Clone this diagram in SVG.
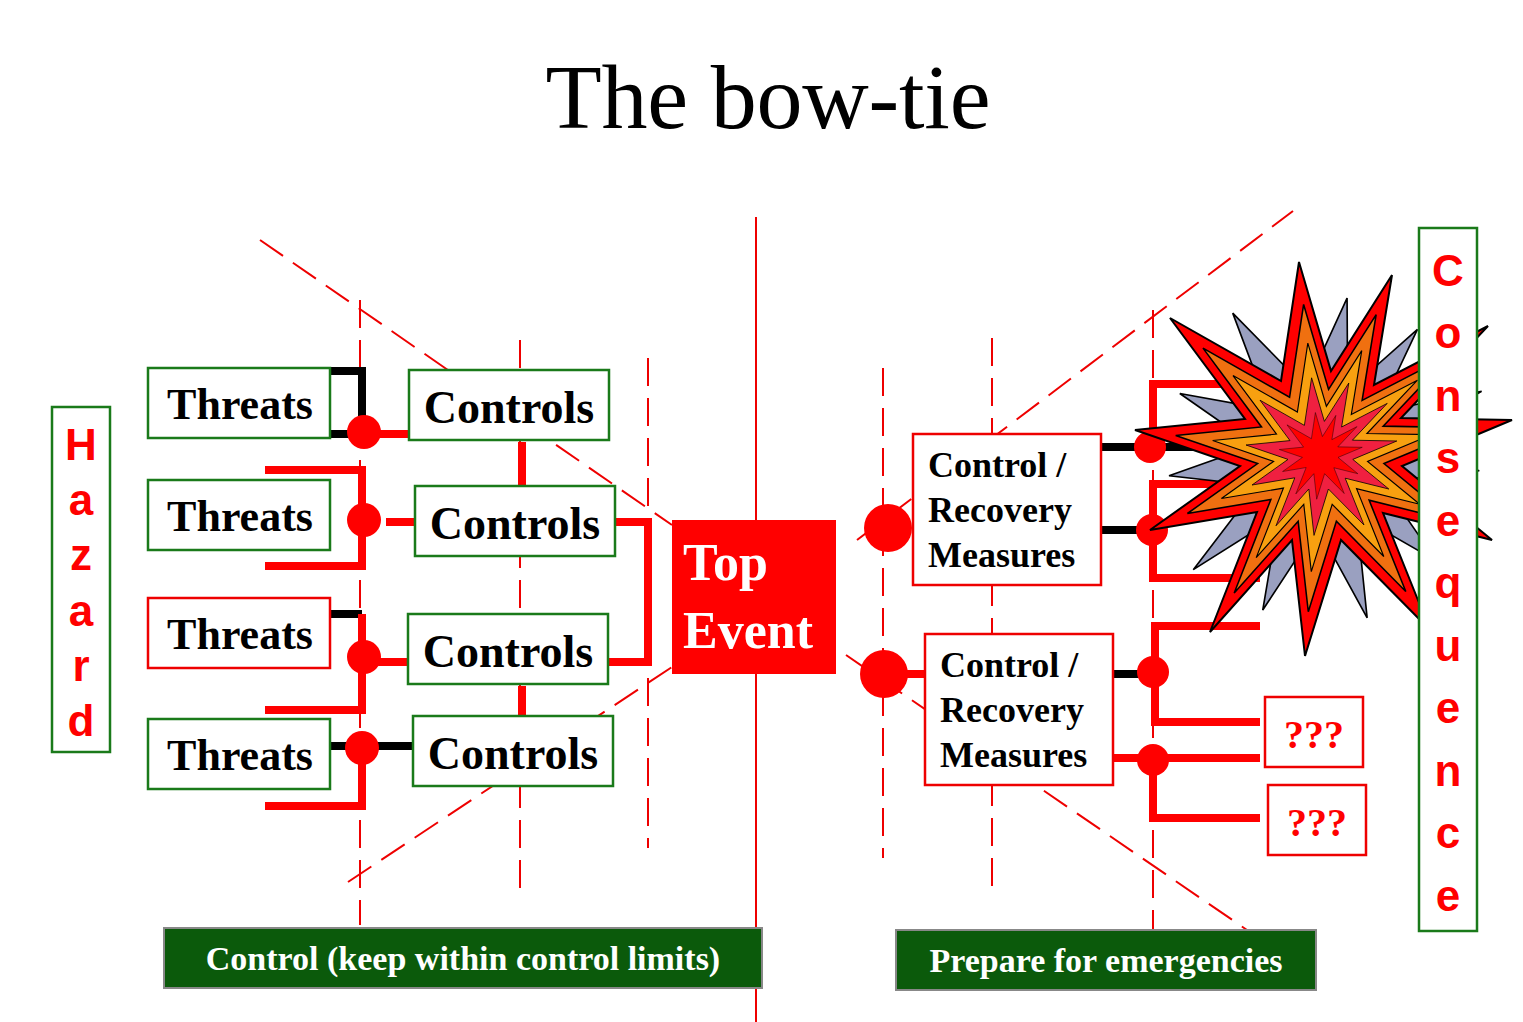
<svg xmlns="http://www.w3.org/2000/svg" width="1523" height="1022" viewBox="0 0 1523 1022">
<style>
.b{fill:#fff;stroke-width:2.5}
.g{stroke:#1a7a1a}.r{stroke:#e00}
.t{font-family:"Liberation Serif",serif;font-weight:bold;fill:#000}
.v{font-family:"Liberation Sans",Arial,sans-serif;font-weight:bold;fill:#f00;font-size:44px;text-anchor:middle}
.th{stroke:#f00;stroke-width:8;fill:none}
.bk{stroke:#000;stroke-width:8;fill:none}
.ds{stroke:#e00;stroke-width:2;stroke-dasharray:28 12;fill:none}
.dot{fill:#f00}
.lab{font-family:"Liberation Serif",serif;font-weight:bold;fill:#fff;font-size:34px}
</style>
<defs>
<polygon id="star" points="-21,-193 11,-84 72,-180 54,-70 168,-129 81,-37 192,-35 82,11 172,85 63,58 110,175 21,85 -15,201 -28,85 -110,177 -63,57 -170,75 -80,11 -185,-25 -75,-36 -150,-137 -39,-74" stroke="#000" stroke-width="2"/>
</defs>
<text x="768" y="128" font-family="Liberation Serif,serif" font-size="92" text-anchor="middle" textLength="445">The bow-tie</text>
<g id="connectors">
<line x1="756" y1="217" x2="756" y2="1022" stroke="#e00" stroke-width="2"/>
<path class="ds" d="M360,300V925M520,340V890M992,338V888M1153,310V935"/>
<path class="ds" stroke-width="3" d="M648,358V848M883,368V858"/>
<path class="ds" d="M260,240L672,525M348,882L672,667M857,540L1293,211M846,655L1247,930"/>
<path class="bk" d="M330,371H362V420M330,434H362M330,614H362M330,746H413M1101,447H1260M1101,530H1150M1113,674H1153"/>
<path class="th" d="M362,434H409M265,470H362V566H265M386,522H415M362,614V710H265M362,662H408M362,748V806H265M522,442V486M522,686V716M615,522H648V662H608M884,674H925"/>
<path class="th" d="M1260,384H1153V450M1260,484H1153V578H1260M1260,626H1155V722H1260M1113,758H1260M1153,760V818H1260"/>
<circle class="dot" cx="364" cy="432" r="17"/><circle class="dot" cx="364" cy="520" r="17"/>
<circle class="dot" cx="364" cy="657" r="17"/><circle class="dot" cx="362" cy="748" r="17"/>
<circle class="dot" cx="888" cy="528" r="24"/><circle class="dot" cx="884" cy="674" r="24"/>
<circle class="dot" cx="1150" cy="447" r="16"/><circle class="dot" cx="1152" cy="530" r="16"/>
<circle class="dot" cx="1153" cy="672" r="16"/><circle class="dot" cx="1153" cy="760" r="16"/>
</g>
<g id="explosion">
<use href="#star" fill="#9aa0c0" transform="translate(1320,455) rotate(16) scale(0.82)"/>
<use href="#star" fill="#f00" transform="translate(1320,455)"/>
<use href="#star" fill="#f07010" transform="translate(1320,455) scale(0.78)"/>
<use href="#star" fill="#f8a010" transform="translate(1320,455) scale(0.58)"/>
<use href="#star" fill="#f02040" transform="translate(1320,455) scale(0.4)"/>
<use href="#star" fill="#f00" transform="translate(1320,455) scale(0.22)"/>
</g>
<g id="hazard"><rect class="b g" x="52" y="407" width="58" height="345"/>
<text class="v" font-size="42"><tspan x="81" y="460">H</tspan><tspan x="81" y="515">a</tspan><tspan x="81" y="570">z</tspan><tspan x="81" y="626">a</tspan><tspan x="81" y="681">r</tspan><tspan x="81" y="736">d</tspan></text></g>
<g id="consequence"><rect class="b g" x="1419" y="228" width="58" height="703"/>
<text class="v"><tspan x="1448" y="286">C</tspan><tspan x="1448" y="348">o</tspan><tspan x="1448" y="411">n</tspan><tspan x="1448" y="473">s</tspan><tspan x="1448" y="536">e</tspan><tspan x="1448" y="598">q</tspan><tspan x="1448" y="661">u</tspan><tspan x="1448" y="723">e</tspan><tspan x="1448" y="786">n</tspan><tspan x="1448" y="848">c</tspan><tspan x="1448" y="911">e</tspan></text></g>
<g id="threat1"><rect class="b g" x="148" y="368" width="182" height="70"/><text class="t" x="240" y="419" font-size="44" text-anchor="middle">Threats</text></g>
<g id="threat2"><rect class="b g" x="148" y="480" width="182" height="70"/><text class="t" x="240" y="531" font-size="44" text-anchor="middle">Threats</text></g>
<g id="threat3"><rect class="b r" x="148" y="598" width="182" height="70"/><text class="t" x="240" y="649" font-size="44" text-anchor="middle">Threats</text></g>
<g id="threat4"><rect class="b g" x="148" y="719" width="182" height="70"/><text class="t" x="240" y="770" font-size="44" text-anchor="middle">Threats</text></g>
<g id="control1"><rect class="b g" x="409" y="370" width="200" height="70"/><text class="t" x="509" y="423" font-size="46" text-anchor="middle">Controls</text></g>
<g id="control2"><rect class="b g" x="415" y="486" width="200" height="70"/><text class="t" x="515" y="539" font-size="46" text-anchor="middle">Controls</text></g>
<g id="control3"><rect class="b g" x="408" y="614" width="200" height="70"/><text class="t" x="508" y="667" font-size="46" text-anchor="middle">Controls</text></g>
<g id="control4"><rect class="b g" x="413" y="716" width="200" height="70"/><text class="t" x="513" y="769" font-size="46" text-anchor="middle">Controls</text></g>
<g id="topevent"><rect x="672" y="520" width="164" height="154" fill="#f00"/><text class="t" font-size="52" fill="#fff" style="fill:#fff"><tspan x="683" y="580">Top</tspan><tspan x="683" y="648">Event</tspan></text></g>
<g id="crm1"><rect class="b r" x="913" y="434" width="188" height="151"/><text class="t" font-size="36"><tspan x="928" y="477">Control /</tspan><tspan x="928" y="522">Recovery</tspan><tspan x="928" y="567">Measures</tspan></text></g>
<g id="crm2"><rect class="b r" x="925" y="634" width="188" height="151"/><text class="t" font-size="36"><tspan x="940" y="677">Control /</tspan><tspan x="940" y="722">Recovery</tspan><tspan x="940" y="767">Measures</tspan></text></g>
<g id="q1"><rect class="b r" x="1265" y="697" width="98" height="70" stroke-width="2"/><text class="t" x="1314" y="748" font-size="40" text-anchor="middle" style="fill:#f00">???</text></g>
<g id="q2"><rect class="b r" x="1268" y="785" width="98" height="70" stroke-width="2"/><text class="t" x="1317" y="836" font-size="40" text-anchor="middle" style="fill:#f00">???</text></g>
<g id="label1"><rect x="164" y="928" width="598" height="60" fill="#0b5a0b" stroke="#888" stroke-width="2"/><text class="lab" x="463" y="970" text-anchor="middle">Control (keep within control limits)</text></g>
<g id="label2"><rect x="896" y="930" width="420" height="60" fill="#0b5a0b" stroke="#888" stroke-width="2"/><text class="lab" x="1106" y="972" text-anchor="middle">Prepare for emergencies</text></g>
</svg>
